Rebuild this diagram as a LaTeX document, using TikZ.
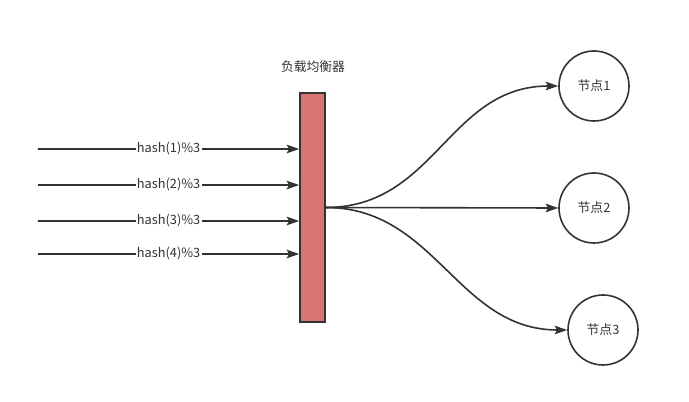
\documentclass[tikz,border=0pt]{standalone}
\usepackage{fontspec}
\setmainfont{Noto Sans CJK SC}
\usetikzlibrary{arrows.meta}
\definecolor{lbfill}{HTML}{DA7471}
\definecolor{ink}{HTML}{333333}

\begin{document}
\begin{tikzpicture}[x=0.75pt, y=-0.75pt, line width=1.2pt, draw=ink,
    >={Stealth[length=9.5pt, width=6.5pt, inset=2pt]},
    every node/.style={text=ink, font=\fontsize{9.6}{11}\selectfont},
    server/.style={circle, draw=ink, minimum size=52.5pt, inner sep=0pt}]

   \path [use as bounding box] (0,0) rectangle (689,402);

   \node [draw=ink, fill=lbfill, minimum width=18.75pt, minimum height=171.75pt, inner sep=0pt]
      (lb) at (312.5,207.5) {};
   \node (lbname) at (313,67) {负载均衡器};

   \foreach [count=\i] \x/\y in {594/86, 594/208, 603/330}
     \node [server] (n\i) at (\x,\y) {节点\i};

   \foreach \i/\y in {1/149, 2/185, 3/221, 4/254} {
     \coordinate (s\i) at (38,\y);
     \draw [->] (s\i) -- (lb.west |- s\i)
        node [midway, fill=white, inner sep=1pt] {hash(\i)\%3};
   }

   \draw [->] (lb.east) .. controls +(110,0) and +(-110,0) .. (n1.west);
   \draw [->] (lb.east) -- (n2.west);
   \draw [->] (lb.east) .. controls +(110,0) and +(-110,0) .. (n3.west);

\end{tikzpicture}
\end{document}
